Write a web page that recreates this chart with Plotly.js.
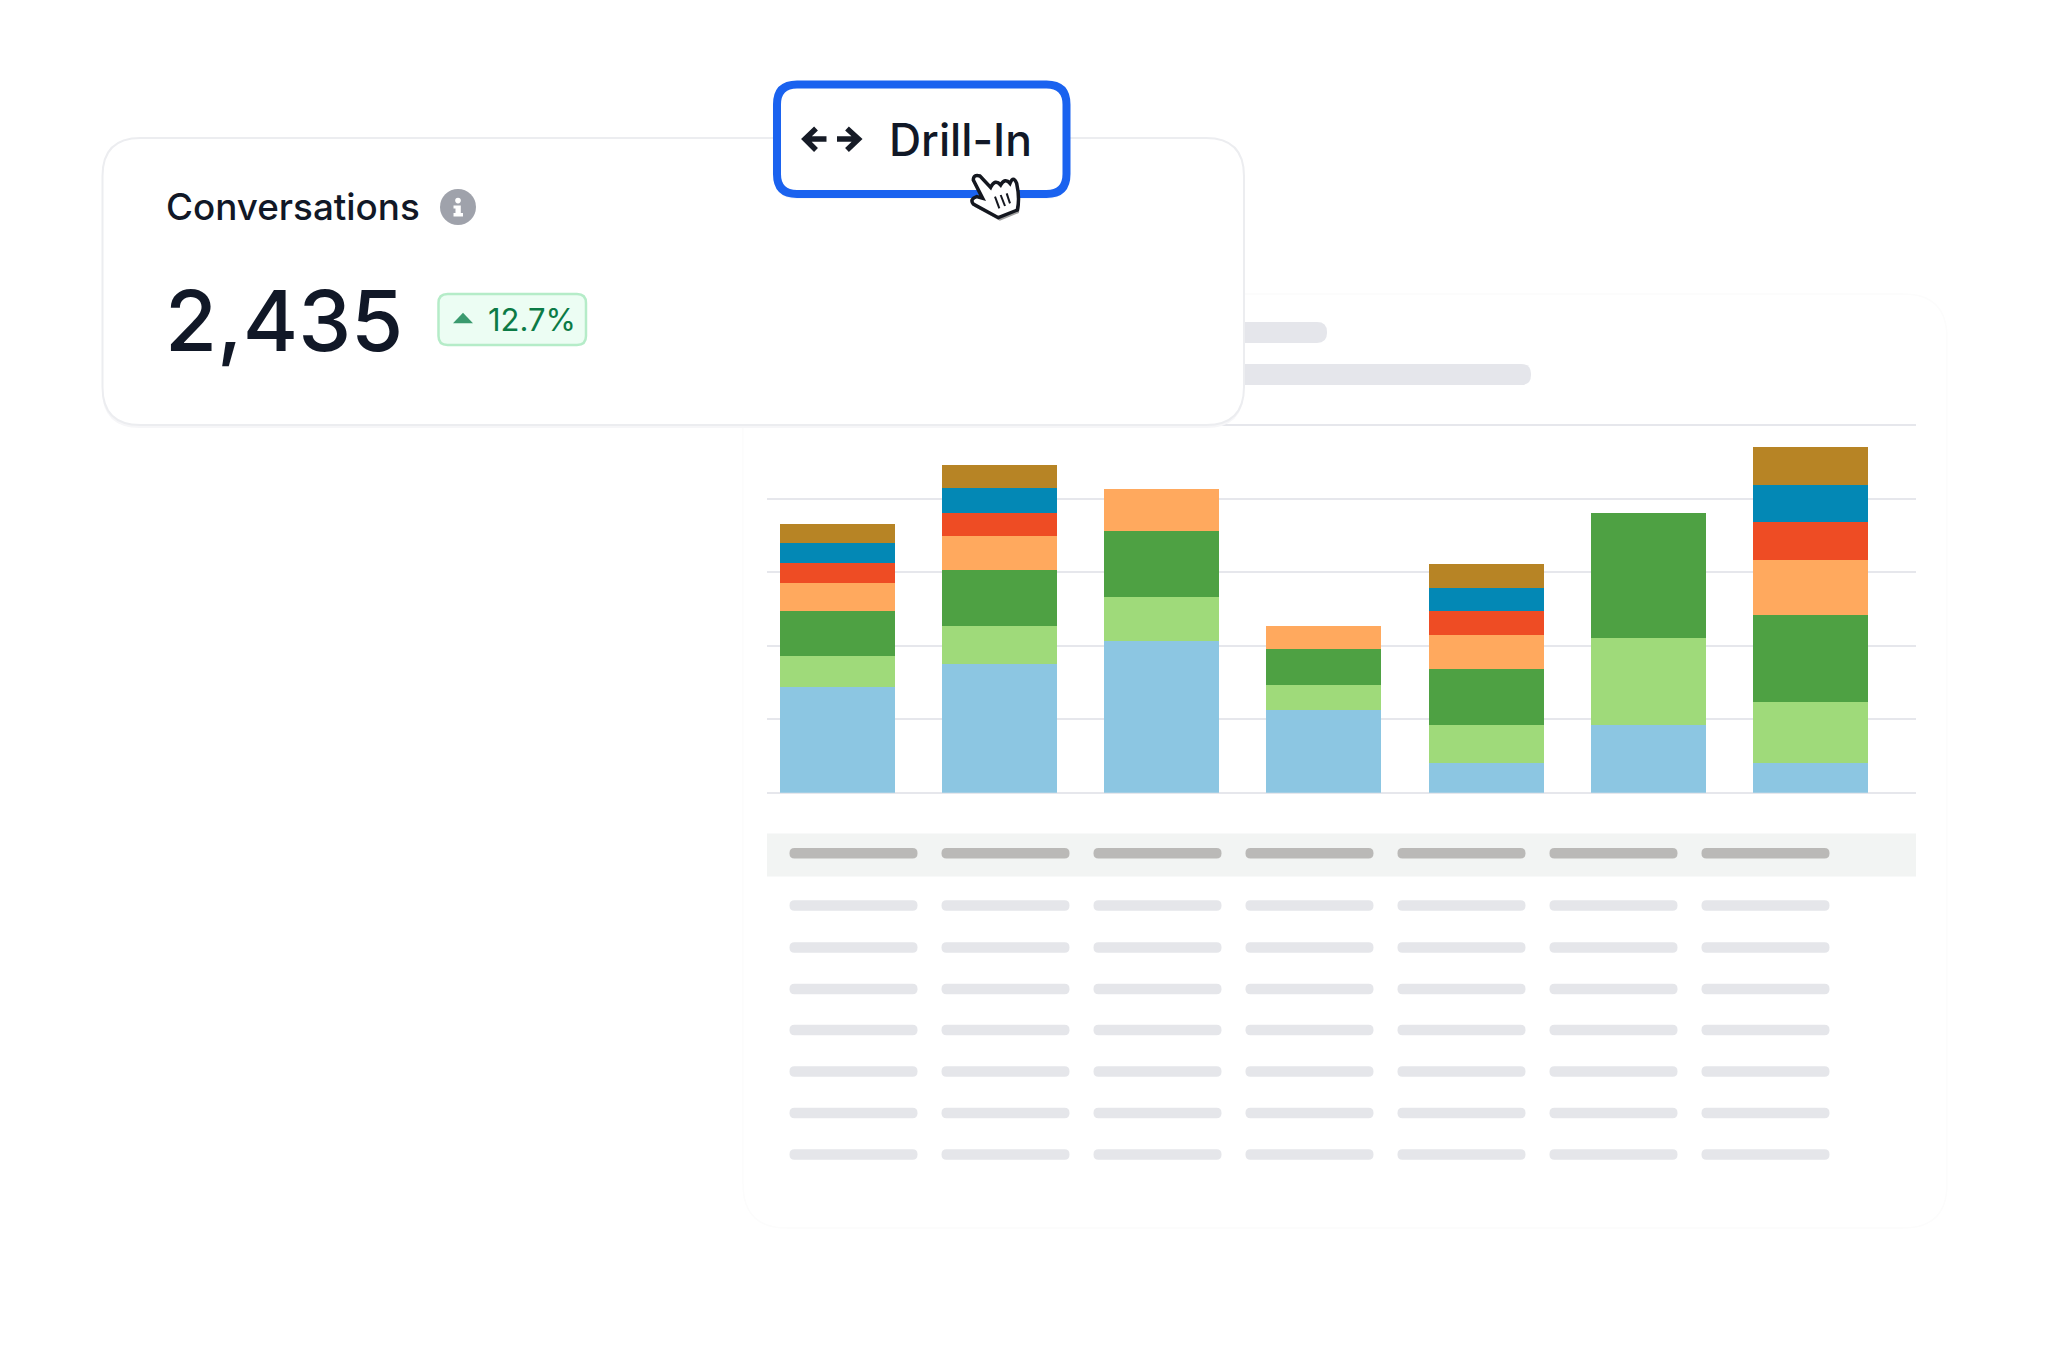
<!DOCTYPE html>
<html><head><meta charset="utf-8">
<script src="https://cdn.plot.ly/plotly-3.0.1.min.js"></script>
<style>html,body{margin:0;padding:0;background:#fff}#c{width:2048px;height:1365px}</style>
</head><body><div id="c"></div>
<script>
const categories = ["1","2","3","4","5","6","7"];
const seriesNames = ["Segment A","Segment B","Segment C","Segment D","Segment E","Segment F","Segment G"];
const skyBlue   = [143.7,174.5,205.8,112.9,39.9,91.6,39.9];
const lightGreen= [42.2,52.1,60.3,33.5,51.7,118.3,83.0];
const green     = [61.6,76.2,90.2,49.4,76.2,170.9,119.2];
const orange    = [38.0,45.8,56.2,30.8,46.2,0,74.3];
const red       = [26.7,32.2,0,0,32.6,0,51.2];
const blue      = [26.7,33.1,0,0,32.2,0,51.2];
const brown     = [26.7,31.7,0,0,32.2,0,51.2];
const seriesValues = [skyBlue,lightGreen,green,orange,red,blue,brown];
const seriesColors = ["#8cc6e2","#9fda7a","#4ea143","#ffa95e","#ee4c24","#0388b5","#b78425"];
const cardTitle = "Conversations", bigValue = "2,435", delta = "12.7%", buttonLabel = "Drill-In";

const W=2048,H=1365;
const fx=x=>x/W, fy=y=>1-y/H;
const P=(x,y)=>fx(x).toFixed(5)+","+fy(y).toFixed(5);
function rr(x0,y0,x1,y1,r){
  return "M"+P(x0+r,y0)+" L"+P(x1-r,y0)+" Q"+P(x1,y0)+" "+P(x1,y0+r)+" L"+P(x1,y1-r)+" Q"+P(x1,y1)+" "+P(x1-r,y1)+
         " L"+P(x0+r,y1)+" Q"+P(x0,y1)+" "+P(x0,y1-r)+" L"+P(x0,y0+r)+" Q"+P(x0,y0)+" "+P(x0+r,y0)+" Z";
}
const base={xref:"paper",yref:"paper"};
const shape=(path,fill,lc,lw)=>({...base,type:"path",path,fillcolor:fill||"rgba(0,0,0,0)",line:{color:lc||"rgba(0,0,0,0)",width:lw||0},layer:"above"});
const shapes=[];
function below(s){s.layer="below";shapes.push(s);}

// back card + placeholder text bars
below(shape(rr(743,294,1947,1228,44),"#ffffff","#fcfcfc",1.5));
below(shape(rr(1180,322,1327,343,10),"#e5e6eb"));
below(shape(rr(1180,364,1531,385,10),"#e5e6eb"));
// table
below(shape("M"+P(767,833.5)+" L"+P(1916,833.5)+" L"+P(1916,876.5)+" L"+P(767,876.5)+" Z","#f2f4f3"));
const colStart=789.5,colStep=152,pillW=128,pillH=10.6;
for(let c=0;c<7;c++){
  const x=colStart+c*colStep;
  below(shape(rr(x,848,x+pillW,848+pillH,5),"#bab9b7"));
  [905.5,947.5,989,1030,1071.5,1113,1154.5].forEach(y=>below(shape(rr(x,y-pillH/2,x+pillW,y+pillH/2,5),"#e5e6ea")));
}
// front card
shapes.push(shape(rr(102,140,1244,428,38),"rgba(246,246,248,1)"));
shapes.push(shape(rr(102.5,138,1244,425,38),"#ffffff","#ecedf0",2));
// info icon
shapes.push({...base,type:"circle",x0:fx(440),x1:fx(476),y0:fy(225),y1:fy(189),fillcolor:"#9fa2ab",line:{width:0},layer:"above"});
shapes.push({...base,type:"circle",x0:fx(455.2),x1:fx(460.8),y0:fy(203.4),y1:fy(197.8),fillcolor:"#fff",line:{width:0},layer:"above"});
shapes.push(shape("M"+P(453.5,205.5)+" L"+P(460.8,205.5)+" L"+P(460.8,213)+" L"+P(463,213)+" L"+P(463,216.5)+" L"+P(453.5,216.5)+" L"+P(453.5,213)+" L"+P(455.5,213)+" L"+P(455.5,208.5)+" L"+P(453.5,208.5)+" Z","#ffffff"));
// badge
shapes.push(shape(rr(438.5,294,586,345,9),"#ecfdf3","#b5ecc8",2.5));
shapes.push(shape("M"+P(453,323.3)+" L"+P(463,312.7)+" L"+P(473,323.3)+" Z","#3a9a6e"));
// button
shapes.push(shape(rr(775,86,1068,199,22),"rgba(235,238,245,0.5)"));
shapes.push(shape(rr(777,84.5,1066.5,194,20),"#ffffff","#1a62ef",8));
// arrows
const ink="#161b26";
shapes.push(shape("M"+P(826.5,139)+" L"+P(805.5,139)+" M"+P(816,128.5)+" L"+P(805,139)+" L"+P(816,150),null,ink,5.5));
shapes.push(shape("M"+P(837,139)+" L"+P(858,139)+" M"+P(847,128.5)+" L"+P(858.5,139)+" L"+P(847,150),null,ink,5.5));
// hand cursor
const zp=(a,b,dx,dy)=>P(760+a/3+(dx||0),70+b/3+(dy||0));
function hand(dx,dy){
  const z=(a,b)=>zp(a,b,dx,dy);
  return "M"+z(640,330)+" Q"+z(640,312)+" "+z(660,318)+" L"+z(692,352)+" Q"+z(705,325)+" "+z(722,345)+
    " Q"+z(735,322)+" "+z(750,340)+" Q"+z(760,315)+" "+z(770,340)+" Q"+z(780,385)+" "+z(772,420)+
    " L"+z(715,443)+" L"+z(640,402)+" Q"+z(628,388)+" "+z(650,380)+" L"+z(668,385)+" Z";
}
shapes.push(shape(hand(1.5,3),"rgba(40,40,40,0.45)"));
shapes.push(shape(hand(0,0),"#ffffff","#14171f",3.5));
[[705,380,718,415],[722,375,735,408],[740,370,750,400]].forEach(l=>
  shapes.push(shape("M"+zp(l[0],l[1])+" L"+zp(l[2],l[3]),null,"#14171f",2)));

const ann=(text,x,y,size,color,weight)=>({xref:"paper",yref:"paper",x:fx(x),y:fy(y),text,showarrow:false,xanchor:"left",yanchor:"middle",
  font:{family:"Inter, sans-serif",size,color,weight:weight||500},borderpad:0});
const annotations=[
  ann(cardTitle,164.5,206,36.8,"#111827"),
  ann(bigValue,164,320,84.5,"#111827"),
  ann(delta,487,319.5,31,"#0b7a45",400),
  ann(buttonLabel,887.5,140,44.5,"#111827")
];

const traces=seriesValues.map((v,i)=>({type:"bar",name:seriesNames[i],x:categories,y:v,marker:{color:seriesColors[i],line:{width:0}},hoverinfo:"x+y+name"}));
const layout={
  width:W,height:H,margin:{l:0,r:0,t:0,b:0,pad:0},paper_bgcolor:"#fff",plot_bgcolor:"rgba(0,0,0,0)",
  barmode:"stack",bargap:0.29,showlegend:false,
  xaxis:{type:"category",domain:[767/W,1916/W],range:[-0.433,6.65],showgrid:false,zeroline:false,showline:false,ticks:"",showticklabels:false,fixedrange:true},
  yaxis:{domain:[1-792.7/H,1-420/H],range:[0,506.8],dtick:100,tick0:0,showgrid:true,gridcolor:"#e6e7ec",gridwidth:2,zeroline:true,zerolinecolor:"#e6e7ec",zerolinewidth:2,showline:false,ticks:"",showticklabels:false,fixedrange:true},
  shapes,annotations
};
Plotly.newPlot("c",traces,layout,{displayModeBar:false,staticPlot:true});
</script></body></html>
